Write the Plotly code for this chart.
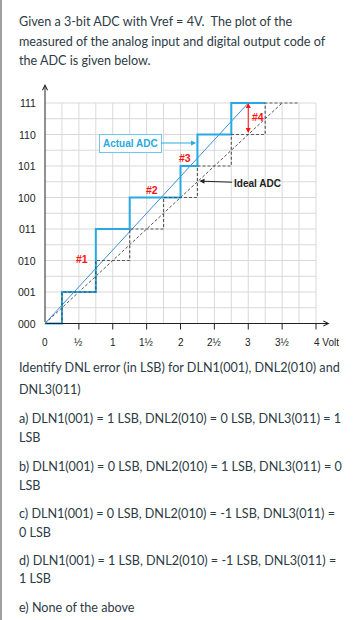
import plotly.graph_objects as go

# ---------------- data ----------------
codes = [0, 1, 2, 3, 4, 5, 6, 7]
code_labels = ["000", "001", "010", "011", "100", "101", "110", "111"]
volt_ticks = [0, 0.5, 1, 1.5, 2, 2.5, 3, 3.5, 4]
volt_labels = ["0", "½", "1", "1½", "2", "2½", "3", "3½", "4 Volt"]

# ideal ADC staircase (start voltage of each code, last point = end of top code)
ideal_x = [0, 0.25, 0.75, 1.25, 1.75, 2.25, 2.75, 3.25, 3.75]
ideal_y = [0, 1, 2, 3, 4, 5, 6, 7, 7]
# actual ADC staircase (code 010 missing)
actual_x = [0, 0.25, 0.75, 1.25, 2.0, 2.25, 2.75, 3.25]
actual_y = [0, 1, 3, 4, 5, 6, 7, 7]
# straight reference lines
ideal_line_x = [0, 3.5]
ideal_line_y = [0, 7]
actual_line_x = [0, 3.0]
actual_line_y = [0, 7]

error_labels = ["#1", "#2", "#3", "#4"]
error_x = [0.55, 1.58, 2.07, 3.14]
error_y = [2.04, 4.24, 5.25, 6.55]

grid_v = [0.25 * k for k in range(1, 17)]
grid_c = [0.5 * k for k in range(1, 15)]

intro_lines = [
    "Given a 3-bit ADC with Vref = 4V.  The plot of the",
    "measured of the analog input and digital output code of",
    "the ADC is given below.",
]
question_lines = [
    ("Identify DNL error (in LSB) for DLN1(001), DNL2(010) and", 367),
    ("DNL3(011)", 389),
    ("a) DLN1(001) = 1 LSB, DNL2(010) = 0 LSB, DNL3(011) = 1", 418),
    ("LSB", 437),
    ("b) DLN1(001) = 0 LSB, DNL2(010) = 1 LSB, DNL3(011) = 0", 466),
    ("LSB", 485),
    ("c) DLN1(001) = 0 LSB, DNL2(010) = -1 LSB, DNL3(011) =", 513),
    ("0 LSB", 532),
    ("d) DLN1(001) = 1 LSB, DNL2(010) = -1 LSB, DNL3(011) =", 560),
    ("1 LSB", 578),
    ("e) None of the above", 607),
]

# ---------------- layout geometry ----------------
W, H = 360, 620
X0, SX = 45.0, 67.75      # px of 0 V, px per volt
Y0, SY = 323.5, 31.5      # px of code 0, px per code
xr = [-X0 / SX, (W - X0) / SX]
yr = [(Y0 - H) / SY, Y0 / SY]

TEXT = "#2D3B45"
BLUE = "#29A9E1"
BLUE2 = "#3C8EDB"
AX = "#222222"

fig = go.Figure()

shapes = []
for v in grid_v:
    shapes.append(dict(type="line", x0=v, x1=v, y0=0, y1=7, xref="x", yref="y",
                       line=dict(color="#D9D9D9", width=1), layer="below"))
for c in grid_c:
    shapes.append(dict(type="line", x0=0, x1=4, y0=c, y1=c, xref="x", yref="y",
                       line=dict(color="#D9D9D9", width=1), layer="below"))
# x tick marks
for v in volt_ticks[1:]:
    shapes.append(dict(type="line", x0=v, x1=v, y0=0, y1=-6 / SY, xref="x", yref="y",
                       line=dict(color=AX, width=1)))
# left page border
shapes.append(dict(type="rect", x0=0, x1=2 / W, y0=0, y1=1, xref="paper", yref="paper",
                   fillcolor="#A0A0A0", line=dict(width=0)))

# ideal dashed straight line
fig.add_trace(go.Scatter(x=ideal_line_x, y=ideal_line_y, mode="lines",
                         line=dict(color="#555555", width=1, dash="3px,2px"), hoverinfo="skip"))
# actual straight line
fig.add_trace(go.Scatter(x=actual_line_x, y=actual_line_y, mode="lines",
                         line=dict(color=BLUE2, width=1), hoverinfo="skip"))
# actual staircase
fig.add_trace(go.Scatter(x=actual_x, y=actual_y, mode="lines", line_shape="hv",
                         line=dict(color=BLUE, width=2), hoverinfo="skip"))
# ideal staircase (drawn over the actual one)
fig.add_trace(go.Scatter(x=ideal_x, y=ideal_y, mode="lines", line_shape="hv",
                         line=dict(color="#444444", width=1.2, dash="3px,2px"),
                         opacity=0.85, hoverinfo="skip"))

ann = []
# axes with arrowheads
ann.append(dict(x=0, y=7.6, ax=0, ay=0, xref="x", yref="y", axref="x", ayref="y",
                showarrow=True, arrowhead=5, arrowsize=1, arrowwidth=1, arrowcolor=AX, text=""))
ann.append(dict(x=4.2, y=0, ax=0, ay=0, xref="x", yref="y", axref="x", ayref="y",
                showarrow=True, arrowhead=5, arrowsize=1, arrowwidth=1, arrowcolor=AX, text=""))
# y tick labels
for c, lab in zip(codes, code_labels):
    ann.append(dict(x=-7 / SX, y=c, xref="x", yref="y", text=lab, showarrow=False,
                    xanchor="right", yanchor="middle",
                    font=dict(family="Liberation Sans", size=10.5, color=AX)))
# x tick labels
for v, lab in zip(volt_ticks, volt_labels):
    ann.append(dict(x=v - (4 / SX if lab == "4 Volt" else 0), y=-19 / SY, xref="x", yref="y",
                    text=lab, showarrow=False,
                    xanchor="left" if lab == "4 Volt" else "center", yanchor="middle",
                    font=dict(family="Liberation Sans", size=10, color=AX)))
# error labels
for lab, ex, ey in zip(error_labels, error_x, error_y):
    ann.append(dict(x=ex, y=ey, xref="x", yref="y", text="<b>" + lab + "</b>", showarrow=False,
                    font=dict(family="Liberation Sans", size=10.5, color="#FF1010")))
# #4 double-headed arrow
ann.append(dict(x=3.0, y=7, ax=3.0, ay=6, xref="x", yref="y", axref="x", ayref="y",
                showarrow=True, arrowhead=2, startarrowhead=2, arrowside="end+start",
                arrowsize=1, arrowwidth=1, arrowcolor="#FF1010", text=""))
# Actual ADC callout
ann.append(dict(x=2.23, y=5.73, ax=1.255, ay=5.73, xref="x", yref="y", axref="x", ayref="y",
                text="<b>Actual ADC</b>", showarrow=True, arrowhead=2, arrowsize=1,
                arrowwidth=1, arrowcolor=BLUE, bordercolor="#6CC6EE", borderwidth=1,
                borderpad=3, bgcolor="white",
                font=dict(family="Liberation Sans", size=10, color=BLUE)))
# Ideal ADC callout
ann.append(dict(x=2.28, y=4.52, ax=3.13, ay=4.46, xref="x", yref="y", axref="x", ayref="y",
                text="<b>Ideal ADC</b>", showarrow=True, arrowhead=2, arrowsize=1,
                arrowwidth=1, arrowcolor=AX,
                font=dict(family="Liberation Sans", size=10, color=AX)))

# paragraph text
for i, line in enumerate(intro_lines):
    py = [21, 41, 60][i]
    ann.append(dict(x=17 / W, y=1 - py / H, xref="paper", yref="paper", text=line,
                    showarrow=False, xanchor="left", yanchor="middle",
                    font=dict(family="Lato", size=12.6, color=TEXT)))
for line, py in question_lines:
    ann.append(dict(x=17 / W, y=1 - py / H, xref="paper", yref="paper", text=line,
                    showarrow=False, xanchor="left", yanchor="middle",
                    font=dict(family="Lato", size=12.6, color=TEXT)))

fig.update_layout(
    width=W, height=H, margin=dict(l=0, r=0, t=0, b=0),
    paper_bgcolor="white", plot_bgcolor="white", showlegend=False,
    xaxis=dict(range=xr, domain=[0, 1], visible=False, fixedrange=True),
    yaxis=dict(range=yr, domain=[0, 1], visible=False, fixedrange=True),
    shapes=shapes, annotations=ann,
)
fig.write_html("out.html", config={"displayModeBar": False},
               post_script="document.body.style.margin='0';document.body.style.overflow='hidden';")
